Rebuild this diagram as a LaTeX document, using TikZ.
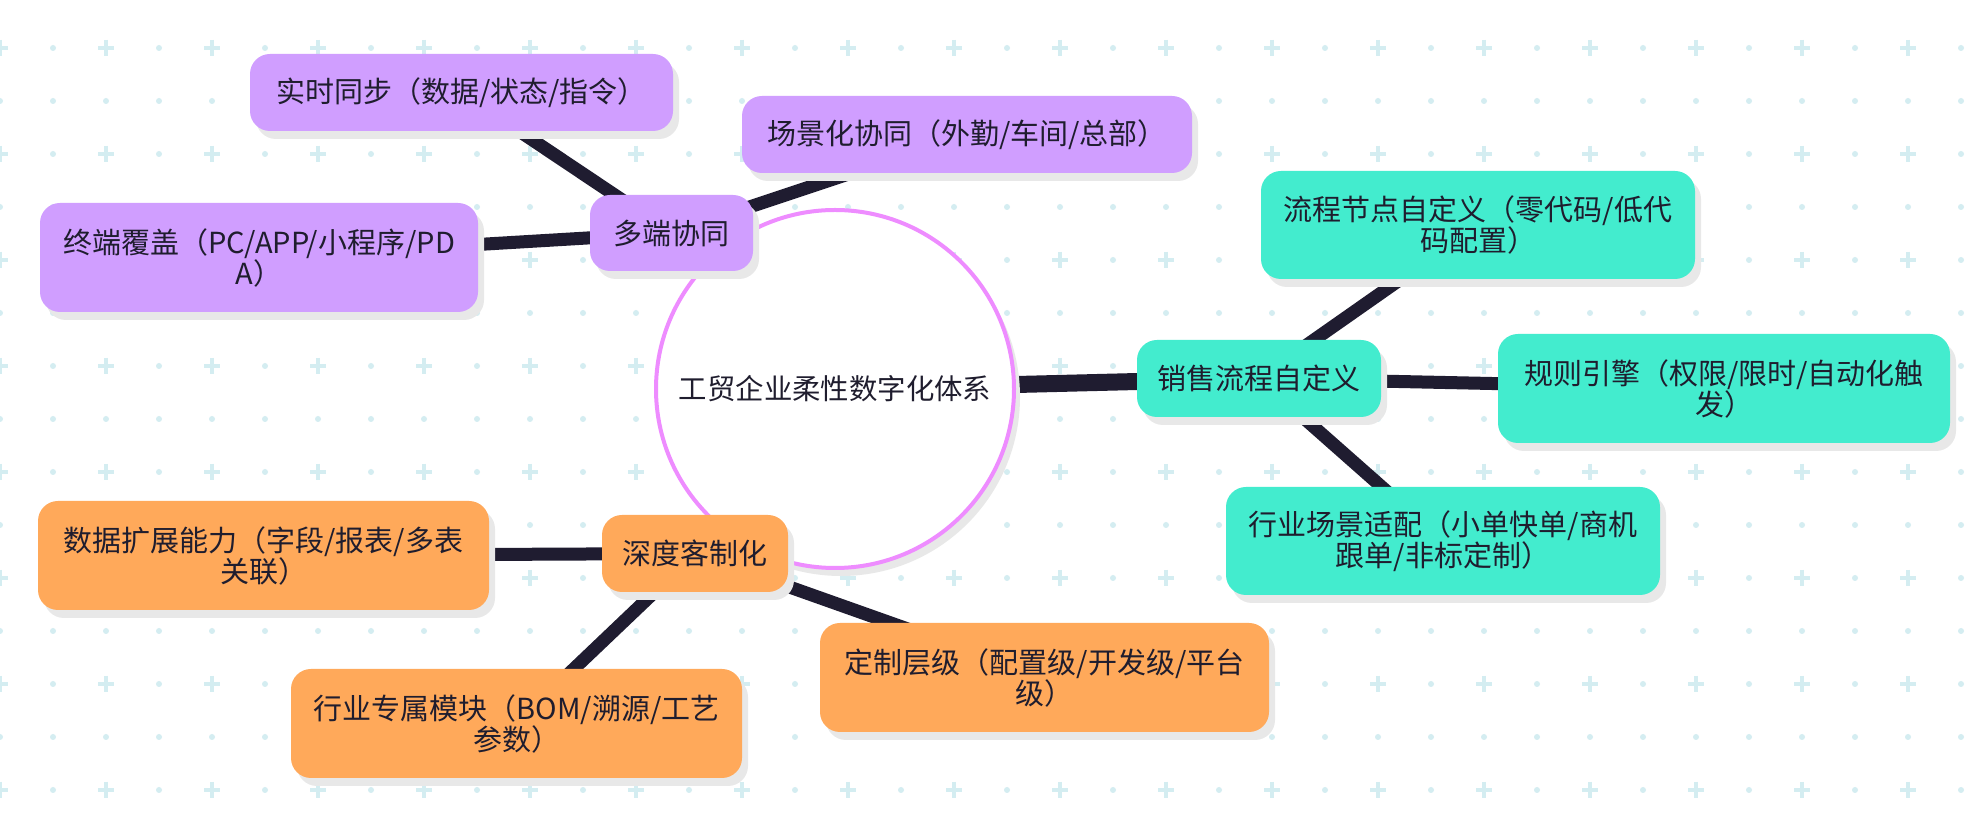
\documentclass[tikz,border=0pt]{standalone}
\usepackage{fontspec}
\setmainfont{Noto Sans CJK SC}
\usetikzlibrary{shadows}
\definecolor{purp}{HTML}{D09EFF}
\definecolor{tealc}{HTML}{43ECCE}
\definecolor{orng}{HTML}{FFA95A}
\definecolor{edgec}{HTML}{1F1C30}
\definecolor{gridc}{HTML}{D4EDF1}
\definecolor{ringc}{HTML}{EE8CFF}
\definecolor{txtc}{HTML}{1F1D2E}
\definecolor{shadc}{HTML}{E8E8E8}
\pgfdeclarelayer{gridlayer}
\pgfdeclarelayer{edgelayer}
\pgfsetlayers{gridlayer,edgelayer,main}
\begin{document}
\begin{tikzpicture}[x=0.5pt,y=-0.5pt,
  box/.style={rectangle, rounded corners=10pt, inner sep=0pt, align=center,
    text=txtc, font=\fontsize{14.5}{15.5}\selectfont,
    drop shadow={shadow xshift=3pt, shadow yshift=-4pt, fill=shadc, opacity=1}},
  pbox/.style={box, fill=purp},
  tbox/.style={box, fill=tealc},
  obox/.style={box, fill=orng},
  rootnode/.style={circle, inner sep=0pt, minimum size=179pt, draw=ringc, line width=2pt,
    fill=white, text=txtc, font=\fontsize{14.2}{15.5}\selectfont,
    drop shadow={shadow xshift=3pt, shadow yshift=-4pt, fill=shadc, opacity=1}},
  trunk/.style={draw=edgec, line width=8.5pt},
  twig/.style={draw=edgec, line width=6.5pt},
  gplus/.style={draw=gridc, line width=2pt},
  gdot/.style={fill=gridc}
]
\useasboundingbox (0,0) rectangle (1972,822);

% root and nodes
\node[rootnode] (root) at (835,389) {工贸企业柔性数字化体系};

\node[pbox, minimum width=211.5pt, minimum height=38.5pt] (sync) at (461.5,92.5) {实时同步（数据/状态/指令）};
\node[pbox, minimum width=225pt, minimum height=38.5pt] (scene) at (967,134.5) {场景化协同（外勤/车间/总部）};
\node[pbox, minimum width=81.5pt, minimum height=38pt] (multi) at (671.5,233) {多端协同};
\node[pbox, minimum width=219pt, minimum height=54.5pt] (term) at (259,257.5) {终端覆盖（PC/APP/小程序/PD\\A）};

\node[tbox, minimum width=217pt, minimum height=54pt] (flowdef) at (1478,225) {流程节点自定义（零代码/低代\\码配置）};
\node[tbox, minimum width=122pt, minimum height=38.5pt] (sales) at (1259,378.5) {销售流程自定义};
\node[tbox, minimum width=226pt, minimum height=54.5pt] (rules) at (1724,388.5) {规则引擎（权限/限时/自动化触\\发）};
\node[tbox, minimum width=217pt, minimum height=54pt] (indus) at (1443,541) {行业场景适配（小单快单/商机\\跟单/非标定制）};

\node[obox, minimum width=225.5pt, minimum height=54.5pt] (dataext) at (263.5,555.5) {数据扩展能力（字段/报表/多表\\关联）};
\node[obox, minimum width=93pt, minimum height=38.5pt] (deep) at (695,553.5) {深度客制化};
\node[obox, minimum width=225.5pt, minimum height=54.5pt] (indmod) at (516.5,723.5) {行业专属模块（BOM/溯源/工艺\\参数）};
\node[obox, minimum width=224.5pt, minimum height=54.5pt] (level) at (1044.5,677.5) {定制层级（配置级/开发级/平台\\级）};

% edges
\begin{pgfonlayer}{edgelayer}
\draw[trunk] (root.center) -- (multi.center);
\draw[trunk] (root.center) -- (sales.center);
\draw[trunk] (root.center) -- (deep.center);
\draw[twig] (multi.center) -- (sync.center);
\draw[twig] (multi.center) -- (scene.center);
\draw[twig] (multi.center) -- (term.center);
\draw[twig] (sales.center) -- (flowdef.center);
\draw[twig] (sales.center) -- (rules.center);
\draw[twig] (sales.center) -- (indus.center);
\draw[twig] (deep.center) -- (dataext.center);
\draw[twig] (deep.center) -- (indmod.center);
\draw[twig] (deep.center) -- (level.center);
\end{pgfonlayer}

% background grid
\begin{pgfonlayer}{gridlayer}
\fill[white] (0,0) rectangle (1972,822);
\foreach \k in {0,2,...,14}{
  \foreach \j in {0,2,...,36}{
    \draw[gplus] ({53*\j-8},{48+53*\k}) -- ({53*\j+8},{48+53*\k})
                 ({53*\j},{48+53*\k-8}) -- ({53*\j},{48+53*\k+8});
  }
  \foreach \j in {1,3,...,37}{
    \fill[gdot] ({53*\j},{48+53*\k}) circle (1.5pt);
  }
}
\foreach \k in {1,3,...,13}{
  \foreach \j in {0,...,37}{
    \fill[gdot] ({53*\j},{48+53*\k}) circle (1.5pt);
  }
}
\end{pgfonlayer}
\end{tikzpicture}
\end{document}
